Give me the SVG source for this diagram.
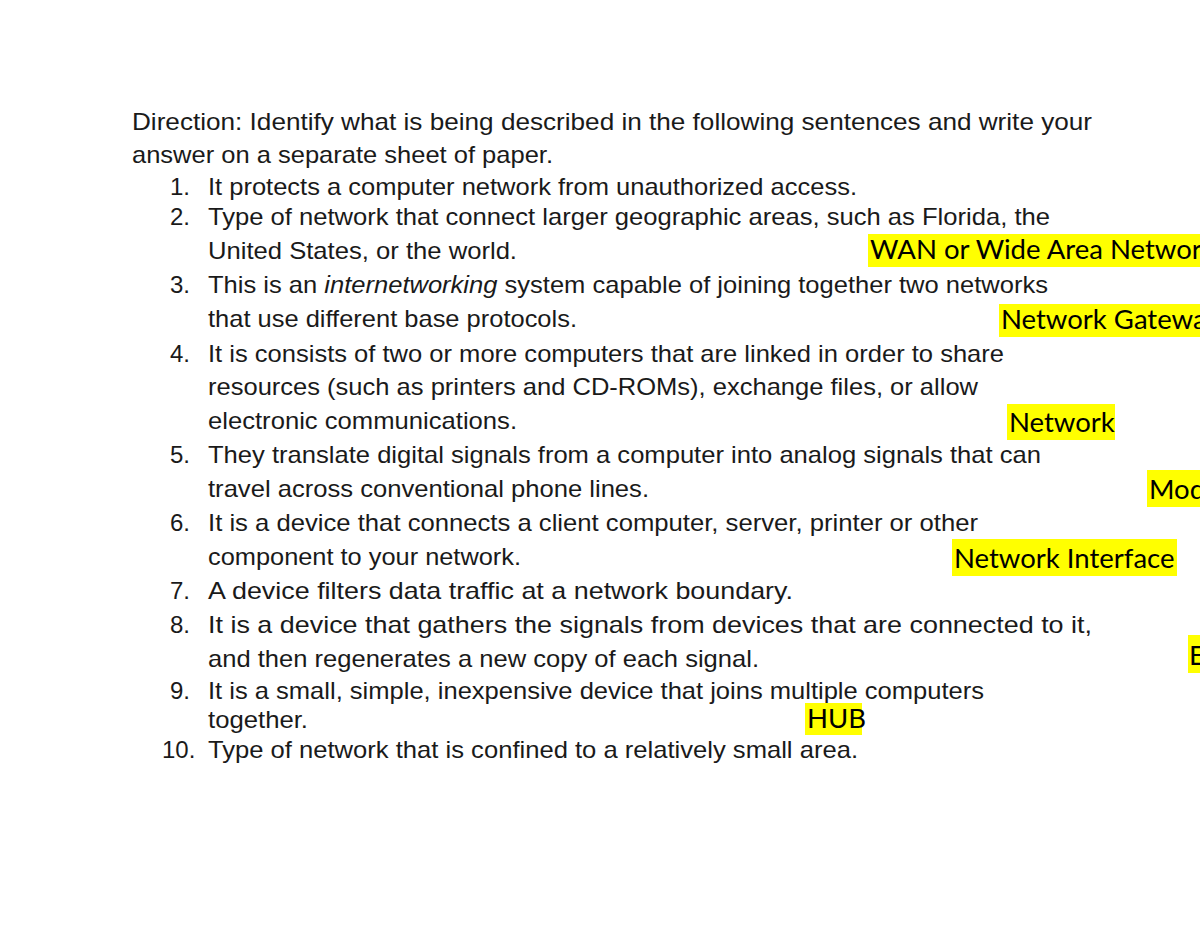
<svg xmlns="http://www.w3.org/2000/svg" width="1200" height="927" viewBox="0 0 1200 927">
<style>
.t{font-family:"Liberation Sans",Arial,sans-serif;font-size:24px;fill:#1a1a1a}
.h{font-family:Lato,"Open Sans",sans-serif;font-size:27.5px;fill:#000}
.hl{fill:#ffff00}
</style>
<rect width="1200" height="927" fill="#fff"/>
<g id="text">
<text class="t" x="132" y="130" textLength="960" lengthAdjust="spacingAndGlyphs">Direction: Identify what is being described in the following sentences and write your</text>
<text class="t" x="132" y="163" textLength="421" lengthAdjust="spacingAndGlyphs">answer on a separate sheet of paper.</text>
<text class="t" x="170" y="195">1.</text><text class="t" x="208" y="195" textLength="649" lengthAdjust="spacingAndGlyphs">It protects a computer network from unauthorized access.</text>
<text class="t" x="170" y="225">2.</text><text class="t" x="208" y="225" textLength="842" lengthAdjust="spacingAndGlyphs">Type of network that connect larger geographic areas, such as Florida, the</text>
<text class="t" x="208" y="259" textLength="309" lengthAdjust="spacingAndGlyphs">United States, or the world.</text>
<text class="t" x="170" y="293">3.</text><text class="t" x="208" y="293" textLength="840" lengthAdjust="spacingAndGlyphs">This is an <tspan font-style="italic">internetworking</tspan> system capable of joining together two networks</text>
<text class="t" x="208" y="327" textLength="369" lengthAdjust="spacingAndGlyphs">that use different base protocols.</text>
<text class="t" x="170" y="362">4.</text><text class="t" x="208" y="362" textLength="796" lengthAdjust="spacingAndGlyphs">It is consists of two or more computers that are linked in order to share</text>
<text class="t" x="208" y="395" textLength="770" lengthAdjust="spacingAndGlyphs">resources (such as printers and CD-ROMs), exchange files, or allow</text>
<text class="t" x="208" y="429" textLength="309" lengthAdjust="spacingAndGlyphs">electronic communications.</text>
<text class="t" x="170" y="463">5.</text><text class="t" x="208" y="463" textLength="833" lengthAdjust="spacingAndGlyphs">They translate digital signals from a computer into analog signals that can</text>
<text class="t" x="208" y="497" textLength="441" lengthAdjust="spacingAndGlyphs">travel across conventional phone lines.</text>
<text class="t" x="170" y="531">6.</text><text class="t" x="208" y="531" textLength="770" lengthAdjust="spacingAndGlyphs">It is a device that connects a client computer, server, printer or other</text>
<text class="t" x="208" y="565" textLength="313" lengthAdjust="spacingAndGlyphs">component to your network.</text>
<text class="t" x="170" y="599">7.</text><text class="t" x="208" y="599" textLength="585" lengthAdjust="spacingAndGlyphs">A device filters data traffic at a network boundary.</text>
<text class="t" x="170" y="633">8.</text><text class="t" x="208" y="633" textLength="884" lengthAdjust="spacingAndGlyphs">It is a device that gathers the signals from devices that are connected to it,</text>
<text class="t" x="208" y="667" textLength="551" lengthAdjust="spacingAndGlyphs">and then regenerates a new copy of each signal.</text>
<text class="t" x="170" y="699">9.</text><text class="t" x="208" y="699" textLength="776" lengthAdjust="spacingAndGlyphs">It is a small, simple, inexpensive device that joins multiple computers</text>
<text class="t" x="208" y="728" textLength="100" lengthAdjust="spacingAndGlyphs">together.</text>
<text class="t" x="162" y="758">10.</text><text class="t" x="208" y="758" textLength="650" lengthAdjust="spacingAndGlyphs">Type of network that is confined to a relatively small area.</text>
</g>
<g id="answers">
<rect class="hl" x="868" y="234" width="332" height="33"/><text class="h" x="870" y="259">WAN or Wide Area Networ</text>
<rect class="hl" x="999" y="304" width="201" height="33"/><text class="h" x="1001" y="329">Network Gatewa</text>
<rect class="hl" x="1007" y="404" width="108" height="36"/><text class="h" x="1009" y="432">Network</text>
<rect class="hl" x="1147" y="470" width="53" height="37"/><text class="h" x="1149" y="499">Mod</text>
<rect class="hl" x="952" y="539" width="225" height="37"/><text class="h" x="954" y="568">Network Interface</text>
<rect class="hl" x="1188" y="635" width="12" height="38"/><text class="h" x="1189" y="665" font-size="26">E</text>
<rect class="hl" x="805" y="703" width="57" height="32"/><text class="h" x="807" y="728">HUB</text>
</g>
</svg>
